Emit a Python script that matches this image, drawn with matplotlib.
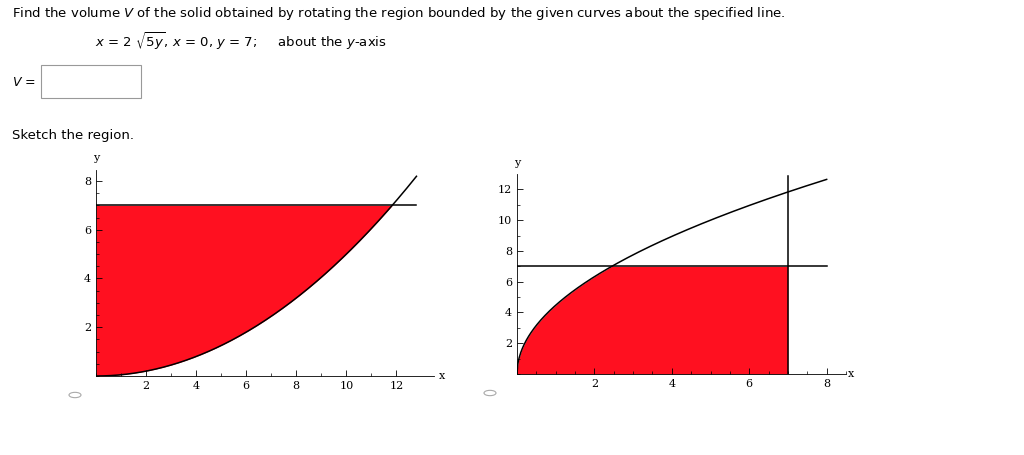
import numpy as np
import matplotlib.pyplot as plt
from matplotlib.patches import Rectangle, Circle

W, H = 1024, 455
y_line = 7
x_line = 7
left_xticks = [2, 4, 6, 8, 10, 12]
left_yticks = [2, 4, 6, 8]
right_xticks = [2, 4, 6, 8]
right_yticks = [2, 4, 6, 8, 10, 12]

fig = plt.figure(figsize=(W / 100, H / 100), dpi=100)
fig.patch.set_facecolor("white")


def px_axes(x0, y0, w, h):
    # pixel box (top-left origin) -> figure fractions
    return fig.add_axes([x0 / W, (H - y0 - h) / H, w / W, h / H])


sans = "DejaVu Sans"
fig.text(12 / W, 1 - 13 / H, "Find the volume $V$ of the solid obtained by rotating the region bounded by the given curves about the specified line.",
         fontsize=9.5, va="center", family=sans)
fig.text(95 / W, 1 - 41 / H, r"$x$ = 2 $\sqrt{5y}$, $x$ = 0, $y$ = 7;     about the $y$-axis",
         fontsize=9.5, va="center", family=sans)
fig.text(12 / W, 1 - 82 / H, "$V$ =", fontsize=9, va="center", family=sans)
fig.add_artist(Rectangle((41 / W, 1 - 98 / H), 100 / W, 33 / H, transform=fig.transFigure,
                         fill=False, edgecolor="#999999", lw=0.8))
fig.text(12 / W, 1 - 136 / H, "Sketch the region.", fontsize=9.5, va="center", family=sans)
for cx, cy in [(75, 395), (490, 393)]:
    fig.add_artist(Circle((cx / W, 1 - cy / H), 6 / W, transform=fig.transFigure,
                          fill=False, edgecolor="#aaaaaa", lw=0.8))


def style(ax, xt, yt):
    for s in ["top", "right"]:
        ax.spines[s].set_visible(False)
    ax.set_xticks(xt)
    ax.set_yticks(yt)
    ax.set_xticks(np.arange(0, max(xt) + 1, 0.5 if max(xt) < 10 else 1), minor=True)
    ax.set_yticks(np.arange(0, max(yt) + 0.1, 0.5 if max(yt) < 10 else 1), minor=True)
    ax.tick_params(direction="in", length=4, labelsize=8, labelfontfamily="DejaVu Serif", width=0.6)
    ax.tick_params(which="minor", direction="in", length=2, width=0.5)
    ax.spines["left"].set_linewidth(0.6)
    ax.spines["bottom"].set_linewidth(0.6)
    ax.patch.set_alpha(0)


# left: region in x-y plane
ax1 = px_axes(96, 170, 338, 206)
ax1.set_xlim(0, 13.5)
ax1.set_ylim(0, 8.45)
xs = np.linspace(0, 12.8, 300)
ax1.fill_between(xs, xs ** 2 / 20, y_line, where=xs ** 2 / 20 <= y_line, color="#ff1020", lw=0)
ax1.plot(xs, xs ** 2 / 20, color="black", lw=1.1)
ax1.plot([0, 12.8], [y_line, y_line], color="black", lw=1.1)
style(ax1, left_xticks, left_yticks)
ax1.text(13.7, 0, "x", fontsize=8, family="DejaVu Serif", va="center")
ax1.text(0, 8.8, "y", fontsize=8, family="DejaVu Serif", ha="center")

# right: mirrored view
ax2 = px_axes(517, 174, 329, 200)
ax2.set_xlim(0, 8.4)
ax2.set_ylim(0, 13)
xs2 = np.linspace(0, 8, 400)
ys2 = 2 * np.sqrt(5 * xs2)
m = xs2 <= x_line
ax2.fill_between(xs2[m], 0, np.minimum(ys2[m], y_line), color="#ff1020", lw=0)
ax2.plot(xs2, ys2, color="black", lw=1.1)
ax2.plot([0, 8], [y_line, y_line], color="black", lw=1.1)
ax2.plot([x_line, x_line], [0, 12.9], color="black", lw=1.1)
style(ax2, right_xticks, right_yticks)
ax2.text(8.55, 0, "x", fontsize=8, family="DejaVu Serif", va="center")
ax2.text(0, 13.5, "y", fontsize=8, family="DejaVu Serif", ha="center")

fig.savefig("out.png", dpi=100)
